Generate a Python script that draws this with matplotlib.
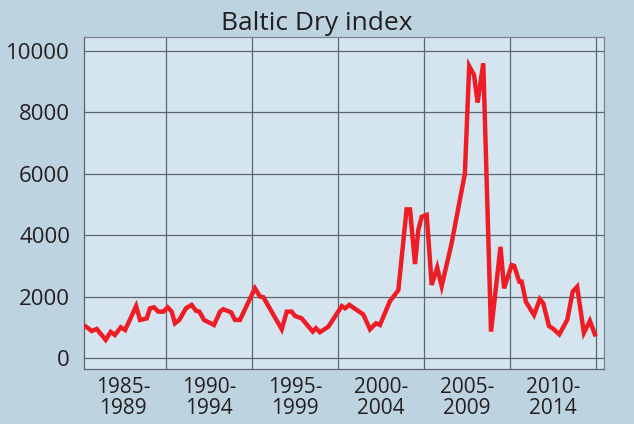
import numpy as np
import matplotlib.pyplot as plt

# Baltic Dry index (decimal years, index value)
years = [1985.35, 1985.68, 1985.97, 1986.49, 1986.78, 1987.03, 1987.37, 1987.62,
         1988.26, 1988.49, 1988.88, 1989.07, 1989.30, 1989.55, 1989.84, 1990.10,
         1990.33, 1990.52, 1990.77, 1991.16, 1991.49, 1991.74, 1991.94, 1992.21,
         1992.79, 1993.14, 1993.33, 1993.78, 1994.01, 1994.30, 1995.17, 1995.47,
         1995.66, 1996.73, 1997.02, 1997.31, 1997.50, 1997.89, 1998.53, 1998.72,
         1998.95, 1999.44, 2000.22, 2000.41, 2000.66, 2001.47, 2001.86, 2002.21,
         2002.44, 2003.02, 2003.51, 2003.99, 2004.19, 2004.48, 2004.67, 2004.87,
         2005.16, 2005.45, 2005.77, 2006.03, 2006.61, 2007.38, 2007.63, 2007.91,
         2008.12, 2008.45, 2008.90, 2009.45, 2009.66, 2010.10, 2010.25, 2010.54,
         2010.68, 2010.93, 2011.40, 2011.74, 2011.94, 2012.27, 2012.50, 2012.87,
         2013.33, 2013.65, 2013.91, 2014.30, 2014.65, 2014.94]
bdi = [1020, 880, 945, 590, 850, 750, 1000, 910,
       1690, 1240, 1290, 1620, 1650, 1510, 1510, 1650,
       1510, 1130, 1240, 1620, 1730, 1540, 1510, 1240,
       1075, 1510, 1590, 1490, 1240, 1240, 2270, 2000,
       1980, 935, 1510, 1510, 1370, 1290, 860, 970,
       840, 1020, 1690, 1620, 1730, 1420, 935, 1130,
       1075, 1850, 2210, 4840, 4840, 3060, 4170, 4600,
       4660, 2380, 2950, 2340, 3740, 6010, 9510, 9220,
       8320, 9600, 860, 3620, 2270, 3030, 3000, 2490,
       2490, 1830, 1400, 1920, 1780, 1040, 960, 770,
       1240, 2160, 2320, 820, 1210, 770]

period_labels = ["1985-\n1989", "1990-\n1994", "1995-\n1999",
                 "2000-\n2004", "2005-\n2009", "2010-\n2014"]
period_mid = [1987.5, 1992.5, 1997.5, 2002.5, 2007.5, 2012.5]
period_edges = [1990, 1995, 2000, 2005, 2010, 2015]
yticks = [0, 2000, 4000, 6000, 8000, 10000]

plt.rcParams['font.family'] = ['Open Sans', 'DejaVu Sans']

fig = plt.figure(figsize=(6.34, 4.24), dpi=100, facecolor="#bdd3e0")
ax = fig.add_axes([84/634, 55/424, 520/634, 332/424], facecolor="#d5e5ef")

grid_col = "#5c6670"
for x in period_edges:
    ax.axvline(x, color=grid_col, lw=0.9, zorder=1)
for y in yticks:
    ax.axhline(y, color=grid_col, lw=0.9, zorder=1)

ax.plot(years, bdi, color="#ee1c25", lw=3.2, solid_joinstyle="miter", zorder=3)

ax.set_xlim(1985.23, 2015.47)
ax.set_ylim(-358, 10456)
ax.set_yticks(yticks)
ax.set_yticklabels([str(v) for v in yticks], fontsize=16, color="#231f20")
ax.set_xticks(period_mid)
ax.set_xticklabels(period_labels, fontsize=15, color="#231f20", linespacing=0.95)
ax.tick_params(length=0)
ax.tick_params(axis="y", pad=10)
ax.tick_params(axis="x", pad=6)

for s in ax.spines.values():
    s.set_color("#7a8590")
    s.set_linewidth(0.9)
ax.spines["left"].set_color("#5c6670")
ax.spines["bottom"].set_color("#5c6670")

fig.text(0.5, 0.93, "Baltic Dry index", ha="center", va="baseline",
         fontsize=19, color="#231f20")

fig.savefig("out.png", dpi=100, facecolor=fig.get_facecolor())
